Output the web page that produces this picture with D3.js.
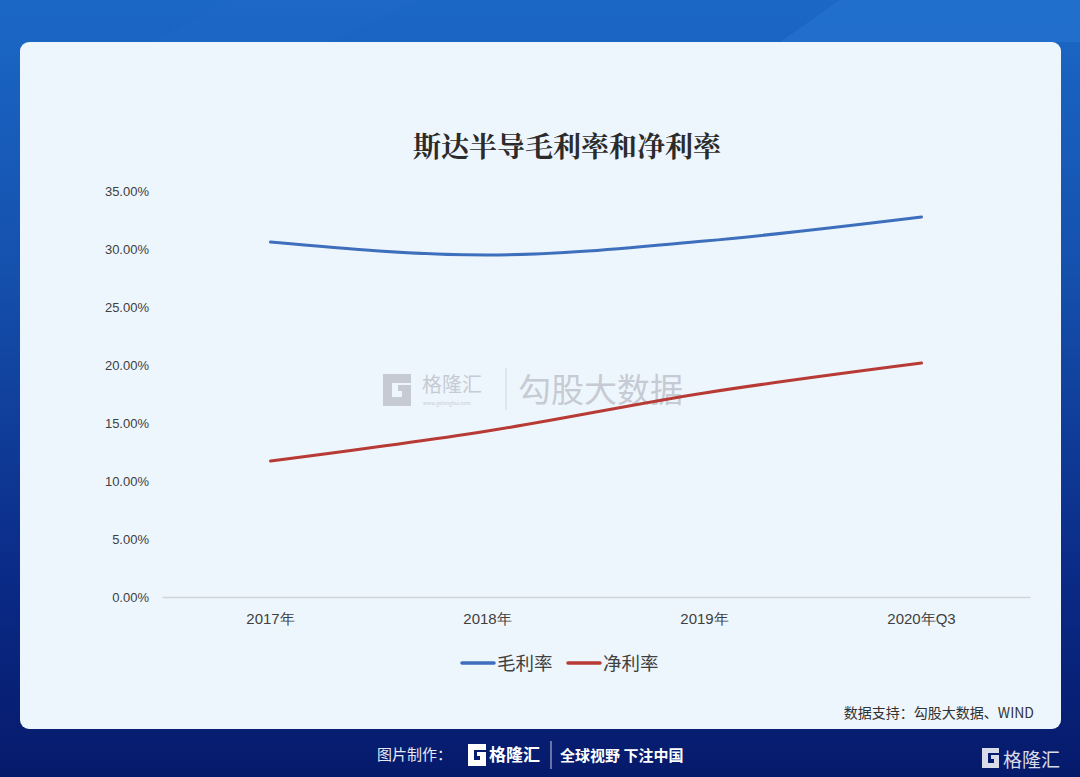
<!DOCTYPE html>
<html>
<head>
<meta charset="utf-8">
<script src="https://cdn.jsdelivr.net/npm/d3@7"></script>
<style>
  html, body { margin: 0; padding: 0; }
  body { width: 1080px; height: 777px; overflow: hidden; font-family: "Noto Sans CJK SC", "Noto Sans", sans-serif; }
</style>
</head>
<body>
<div id="chart"></div>
<script>
const categories = ["2017年", "2018年", "2019年", "2020年Q3"];
const grossMargin = [0.3060, 0.2948, 0.3069, 0.3276];
const netMargin = [0.1172, 0.1431, 0.1759, 0.2017];
const yTicks = [0, 0.05, 0.10, 0.15, 0.20, 0.25, 0.30, 0.35];
const seriesNames = ["毛利率", "净利率"];
const seriesColors = ["#3d6fbd", "#b83a35"];

const width = 1080, height = 777;
const svg = d3.select("#chart").append("svg")
    .attr("width", width)
    .attr("height", height);

// background
const defs = svg.append("defs");
const bg = defs.append("linearGradient").attr("id", "bg")
    .attr("x1", 0).attr("y1", 0).attr("x2", 0).attr("y2", 1);
bg.append("stop").attr("offset", "0%").attr("stop-color", "#1b68c6");
bg.append("stop").attr("offset", "35%").attr("stop-color", "#1550ad");
bg.append("stop").attr("offset", "75%").attr("stop-color", "#0a2a86");
bg.append("stop").attr("offset", "100%").attr("stop-color", "#061a6b");
svg.append("rect").attr("width", width).attr("height", height).attr("fill", "url(#bg)");
svg.append("path").attr("d", "M840,0 L1080,0 L1080,42 L780,42 Z").attr("fill", "#2a7ad6").attr("opacity", 0.45);
svg.append("path").attr("d", "M230,0 L420,0 L330,42 L150,42 Z").attr("fill", "#2a70cc").attr("opacity", 0.2);

// panel
svg.append("rect")
    .attr("x", 20).attr("y", 42)
    .attr("width", 1041).attr("height", 687)
    .attr("rx", 9)
    .attr("fill", "#eef6fd");

// title
svg.append("text")
    .attr("x", 567).attr("y", 157)
    .attr("text-anchor", "middle")
    .attr("font-size", 28)
    .attr("font-weight", "bold")
    .attr("font-family", "'Noto Serif CJK SC', 'Noto Sans CJK SC', serif")
    .attr("fill", "#2b2b2b")
    .text("斯达半导毛利率和净利率");

// watermark
const wm = svg.append("g").attr("opacity", 0.75);
wm.append("path")
    .attr("d", "M383,374 h28 v9 h-19 v14 h10 v-6 h-4 v-6 h13 v21 h-28 Z")
    .attr("fill", "#b9bdc6");
wm.append("text").attr("x", 422).attr("y", 392).attr("font-size", 20).attr("fill", "#b9bdc6").text("格隆汇");
wm.append("text").attr("x", 423).attr("y", 405).attr("font-size", 5).attr("fill", "#b9bdc6").text("www.gelonghui.com");
wm.append("line").attr("x1", 506).attr("x2", 506).attr("y1", 368).attr("y2", 410).attr("stroke", "#c8ccd4").attr("stroke-width", 1);
wm.append("text").attr("x", 518).attr("y", 402).attr("font-size", 33).attr("fill", "#b9bdc6").text("勾股大数据");

// scales
const x = d3.scaleBand().domain(categories).range([162, 1030]);
const y = d3.scaleLinear().domain([0, 0.35]).range([597, 191]);

const yAxis = svg.append("g")
    .attr("transform", "translate(162,0)")
    .call(d3.axisLeft(y).tickValues(yTicks).tickFormat(d3.format(".2%")).tickSize(0).tickPadding(13));
yAxis.select(".domain").remove();
yAxis.selectAll("text").attr("font-size", 13).attr("fill", "#404040")
    .attr("font-family", "'Liberation Sans', Arial, sans-serif");

const xAxis = svg.append("g")
    .attr("transform", "translate(0,597)")
    .call(d3.axisBottom(x).tickSize(0).tickPadding(16));
xAxis.select(".domain").attr("stroke", "#d0d4d9").attr("stroke-width", 1.5);
xAxis.selectAll("text").attr("font-size", 15).attr("fill", "#404040");

// lines
const line = d3.line()
    .x((d, i) => x(categories[i]) + x.bandwidth() / 2)
    .y(d => y(d))
    .curve(d3.curveMonotoneX);

[grossMargin, netMargin].forEach((s, k) => {
    svg.append("path")
        .datum(s)
        .attr("d", line)
        .attr("fill", "none")
        .attr("stroke", seriesColors[k])
        .attr("stroke-width", 3)
        .attr("stroke-linecap", "round");
});

// legend
const legendX = [462, 568];
seriesNames.forEach((n, k) => {
    const g = svg.append("g").attr("transform", `translate(${legendX[k]},663)`);
    g.append("line").attr("x1", 0).attr("x2", 32).attr("y1", 0).attr("y2", 0)
        .attr("stroke", seriesColors[k]).attr("stroke-width", 3.5).attr("stroke-linecap", "round");
    g.append("text").attr("x", 35).attr("y", 7).attr("font-size", 18.5).attr("fill", "#404040").text(n);
});

// source
svg.append("text")
    .attr("x", 1034).attr("y", 718)
    .attr("text-anchor", "end")
    .attr("font-size", 14)
    .attr("fill", "#333")
    .text("数据支持：勾股大数据、WIND");

// footer
svg.append("text").attr("x", 377).attr("y", 760).attr("font-size", 15).attr("fill", "#e6e9f2").text("图片制作：");
svg.append("path")
    .attr("d", "M468,744 h18 v6 h-12 v10 h6 v-4 h-3 v-4 h9 v14 h-18 Z")
    .attr("fill", "#ffffff");
svg.append("text").attr("x", 489).attr("y", 761).attr("font-size", 17).attr("font-weight", "bold").attr("fill", "#ffffff").text("格隆汇");
svg.append("line").attr("x1", 551).attr("x2", 551).attr("y1", 741).attr("y2", 769).attr("stroke", "#c8cde0").attr("stroke-width", 1);
svg.append("text").attr("x", 560).attr("y", 761).attr("font-size", 15).attr("font-weight", "bold").attr("fill", "#ffffff").text("全球视野 下注中国");

svg.append("path")
    .attr("d", "M982,748 h17 v5 h-11 v10 h6 v-4 h-3 v-4 h8 v13 h-17 Z")
    .attr("fill", "#d8dce8");
svg.append("text").attr("x", 1003).attr("y", 767).attr("font-size", 19).attr("fill", "#d8dce8").text("格隆汇");
</script>
</body>
</html>
